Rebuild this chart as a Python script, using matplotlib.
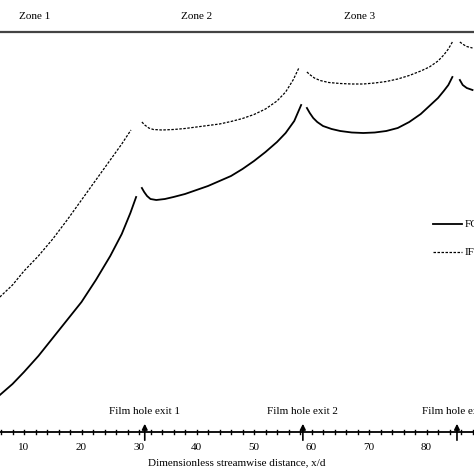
import matplotlib
matplotlib.use("Agg")
import matplotlib.pyplot as plt

plt.rcParams['font.family'] = ['Liberation Serif', 'DejaVu Serif']

def px2x(p):
    return 10 + (p - 24) / 5.75

# FC (solid) segments: x/d and y (image-height units, larger = lower)
fc1_x = [5.8, 8, 10, 12.5, 15, 17.5, 20, 22.5, 25, 27, 28.5, 29.5]
fc1_y = [395, 384, 372, 356, 338, 320, 302, 280, 256, 234, 213, 197]
fc2_x = [30.5, 30.9, 31.4, 32, 33, 34.5, 36, 38, 40, 42, 44, 46, 48, 50, 52, 54, 55.5, 57, 58.2]
fc2_y = [188, 192, 196, 199, 200, 199, 197, 194, 190, 186, 181, 176, 169, 161, 152, 142, 133, 121, 105]
fc3_x = [59.2, 59.7, 60.3, 61, 62, 63.5, 65, 67, 69, 71, 73, 75, 77, 79, 80.5, 82, 83, 83.8, 84.5]
fc3_y = [108, 113, 118, 122, 126, 129, 131, 132.5, 133, 132.5, 131, 128, 122, 114, 106, 98, 91, 85, 77]
fc4_x = [85.8, 86.3, 87, 88]
fc4_y = [80, 85, 88, 90]

if_x1 = [5.8, 8, 10, 12.5, 15, 17.5, 20, 22.5, 25, 27, 28.6]
if_y1 = [297, 285, 271, 256, 239, 220, 200, 180, 160, 144, 130]
if_x2 = [30.5, 31, 31.7, 32.5, 34, 36, 38, 40, 42, 44, 46, 48, 50, 52, 54, 55.5, 56.8, 57.8]
if_y2 = [122, 125, 128, 129.5, 130, 129.5, 128.5, 127, 125.5, 124, 121.5, 118.5, 114.5, 109, 101, 92, 80, 68]
if_x3 = [59.2, 59.8, 60.5, 61.5, 63, 65, 67, 69, 71, 73, 75, 77, 79, 80.5, 82, 83, 83.8, 84.5]
if_y3 = [72, 75, 78, 80.5, 82.5, 83.5, 84, 84, 83, 81.5, 79, 75.5, 71, 67, 61, 55, 49, 42]
if_x4 = [85.8, 86.4, 87, 88]
if_y4 = [42, 44.5, 46.5, 48]

tick_labels = [10, 20, 30, 40, 50, 60, 70, 80]
zones = ["Zone 1", "Zone 2", "Zone 3"]
zone_x = [px2x(35), px2x(197), px2x(360)]
holes = ["Film hole exit 1", "Film hole exit 2", "Film hole exit 3"]
hole_x = [31.0, 58.5, 85.3]

fig = plt.figure(figsize=(4.74, 4.74), dpi=100)
ax = fig.add_axes([0, 0, 1, 1])
ax.set_xlim(px2x(0), px2x(474))
ax.set_ylim(474, 0)
ax.axis('off')

for xs, ys in [(fc1_x, fc1_y), (fc2_x, fc2_y), (fc3_x, fc3_y), (fc4_x, fc4_y)]:
    ax.plot(xs, ys, color='black', lw=1.3)
for xs, ys in [(if_x1, if_y1), (if_x2, if_y2), (if_x3, if_y3), (if_x4, if_y4)]:
    ax.plot(xs, ys, color='black', lw=0.9, ls=(0, (2, 1.2)))

x0, x1 = px2x(0), px2x(474)
ax.plot([x0, x1], [432, 432], color='black', lw=1.3)
ax.plot([x0, x1], [32, 32], color='#444444', lw=1.6)
for t in range(6, 89, 2):
    ax.plot([t, t], [430, 434], color='black', lw=1)
for t in tick_labels:
    ax.text(t, 447, str(t), ha='center', va='center', fontsize=8)
ax.text(px2x(237), 463, "Dimensionless streamwise distance, x/d", ha='center', va='center', fontsize=8)

for z, zx in zip(zones, zone_x):
    ax.text(zx, 16, z, ha='center', va='center', fontsize=8)
for h, hx in zip(holes, hole_x):
    ax.annotate('', xy=(hx, 421), xytext=(hx, 443),
                arrowprops=dict(arrowstyle='-|>', color='black', lw=1.2, mutation_scale=8))
    ax.text(hx, 411, h, ha='center', va='center', fontsize=8)

ax.plot([px2x(433), px2x(462)], [224, 224], color='black', lw=1.3)
ax.text(px2x(465), 224, "FC", va='center', fontsize=8)
ax.plot([px2x(433), px2x(462)], [252, 252], color='black', lw=0.9, ls=(0, (2, 1.2)))
ax.text(px2x(465), 252, "IF", va='center', fontsize=8)

fig.savefig("out.png", dpi=100)
